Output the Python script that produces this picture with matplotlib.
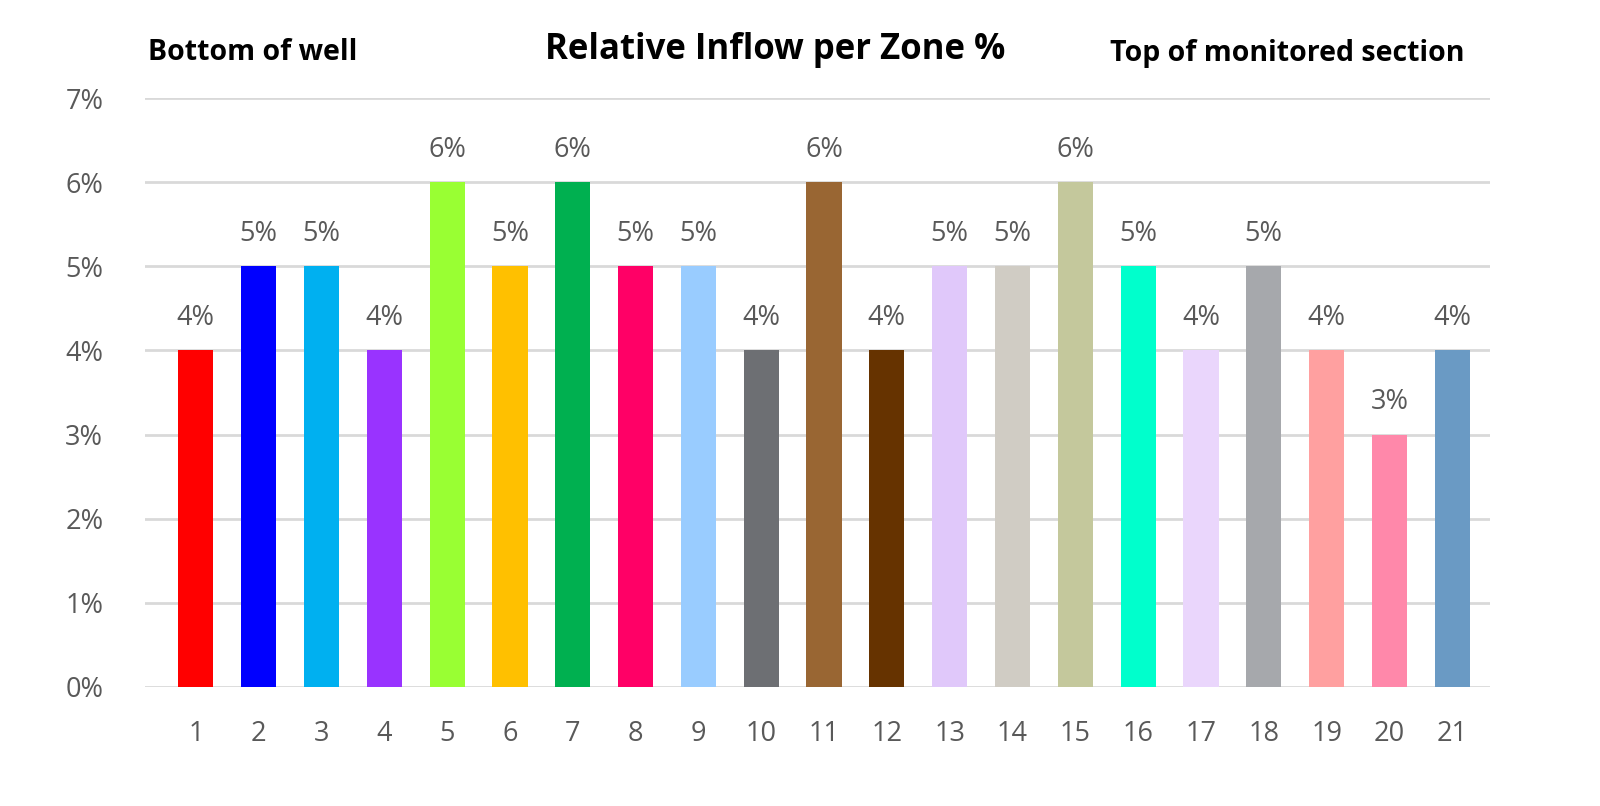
import matplotlib
matplotlib.use("Agg")
import matplotlib.pyplot as plt
from matplotlib.ticker import PercentFormatter

zones = list(range(1, 22))
values = [4, 5, 5, 4, 6, 5, 6, 5, 5, 4, 6, 4, 5, 5, 6, 5, 4, 5, 4, 3, 4]
colors = ["#FF0000", "#0000FF", "#00B0F0", "#9933FF", "#99FF33", "#FFC000",
          "#00B050", "#FF0066", "#99CCFF", "#6D6F73", "#996633", "#663300",
          "#E0C8FA", "#D0CCC4", "#C4C89C", "#00FFCC", "#EAD6FC", "#A6A8AC",
          "#FFA0A0", "#FF88AA", "#6A9AC4"]
yticks = [0, 1, 2, 3, 4, 5, 6, 7]

plt.rcParams['font.family'] = ['Open Sans', 'DejaVu Sans']
fig = plt.figure(figsize=(16, 8.06), dpi=100)
ax = fig.add_axes([0.0906, 0.148, 0.8406, 0.730])

ax.bar(zones, values, width=0.56, color=colors, zorder=3)
for x, v in zip(zones, values):
    ax.text(x, v + 0.22, f"{v}%", ha="center", va="bottom", fontsize=19.5,
            color="#595959", zorder=4)

ax.set_ylim(0, 7)
ax.set_xlim(0.19, 21.6)
ax.set_yticks(yticks)
ax.yaxis.set_major_formatter(PercentFormatter(decimals=0))
ax.set_xticks(zones)
ax.grid(axis="y", color="#D9D9D9", linewidth=2, zorder=0)
for s in ax.spines.values():
    s.set_visible(False)
ax.tick_params(axis="both", length=0, labelsize=19.5, labelcolor="#595959")
ax.tick_params(axis="y", pad=30)
ax.tick_params(axis="x", pad=24)

fig.text(148/1600, 1 - 53/806, "Bottom of well", fontsize=20.5, fontweight="bold",
         ha="left", va="center", color="black")
fig.text(775/1600, 1 - 50/806, "Relative Inflow per Zone %", fontsize=25,
         fontweight="bold", ha="center", va="center", color="black")
fig.text(1465/1600, 1 - 53/806, "Top of monitored section", fontsize=20.5,
         fontweight="bold", ha="right", va="center", color="black")

fig.savefig("out.png", dpi=100, facecolor="white")
